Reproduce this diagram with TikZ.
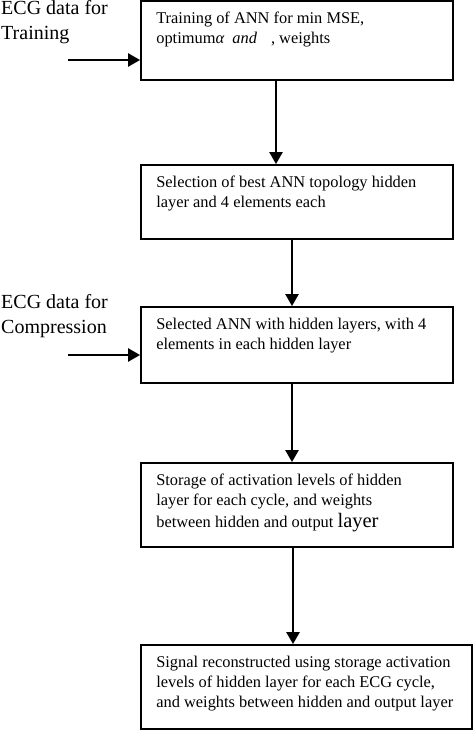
\documentclass[tikz,border=0pt]{standalone}
\usepackage{fontspec}
\setmainfont{Liberation Serif}
\usetikzlibrary{arrows.meta, positioning, calc}
\tikzset{
	stepbox/.style={
			rectangle,
			draw=black,
			line width=1.8pt,
			fill=white,
			inner sep=0pt
		},
	steptext/.style={
			anchor=north west,
			inner sep=0pt,
			align=left,
			font=\fontsize{16.4}{20}\selectfont
		},
	datalabel/.style={
			anchor=north west,
			inner sep=0pt,
			align=left,
			font=\fontsize{20}{25}\selectfont
		},
	flowarrow/.style={
			line width=2.4pt,
			-{Triangle[length=12pt,width=13pt]}
		}
}

\begin{document}
\begin{tikzpicture}[x=1pt, y=-1pt]
\useasboundingbox (0,0) rectangle (474,733);

\node[stepbox, minimum width=312, minimum height=79] (bTrain) at (297,40.5) {};
\node[stepbox, minimum width=312, minimum height=74] (bSelect) at (297,202) {};
\node[stepbox, minimum width=312, minimum height=76] (bAnn) at (297,345) {};
\node[stepbox, minimum width=312, minimum height=84] (bStore) at (297,505) {};
\node[stepbox, minimum width=331, minimum height=84] (bRecon) at (306.5,687) {};

\node[steptext] (tTrain) at ([shift={(16,11.5)}]bTrain.north west)
  {Training of ANN for min MSE,\\optimum\textit{α}\hspace{8pt}\textit{and}\hspace{14pt}, weights};
\node[steptext] (tSelect) at ([shift={(16,11.8)}]bSelect.north west)
  {Selection of best ANN topology hidden\\layer and 4 elements each};
\node[steptext] (tAnn) at ([shift={(16,11.8)}]bAnn.north west)
  {Selected ANN with hidden layers, with 4\\elements in each hidden layer};
\node[steptext] (tStore) at ([shift={(16,11.8)}]bStore.north west)
  {Storage of activation levels of hidden\\layer for each cycle, and weights\\[2pt]
   between hidden and output {\fontsize{20.5}{20}\selectfont layer}};
\node[steptext] (tRecon) at ([shift={(16,11.8)}]bRecon.north west)
  {Signal reconstructed using storage activation\\levels of hidden layer for each ECG cycle,\\and weights between hidden and output layer};

\node[datalabel] (lTrain) at (1,0.5) {ECG data for\\Training};
\node[datalabel] (lComp) at (1,294.3) {ECG data for\\Compression};

\coordinate (inTrain) at (68,60);
\coordinate (inComp) at (68,355);

\draw[flowarrow] (inTrain) -- (inTrain -| bTrain.west);
\draw[flowarrow] (inComp) -- (inComp -| bAnn.west);

\draw[flowarrow] ([xshift=-21pt]bTrain.south) -- ([xshift=-21pt]bSelect.north);
\draw[flowarrow] ([xshift=-5pt]bSelect.south) -- ([xshift=-5pt]bAnn.north);
\draw[flowarrow] ([xshift=-5pt]bAnn.south) -- ([xshift=-5pt]bStore.north);
\draw[flowarrow] ([xshift=-4pt]bStore.south) -- ([xshift=-13.5pt]bRecon.north);

\end{tikzpicture}
\end{document}
